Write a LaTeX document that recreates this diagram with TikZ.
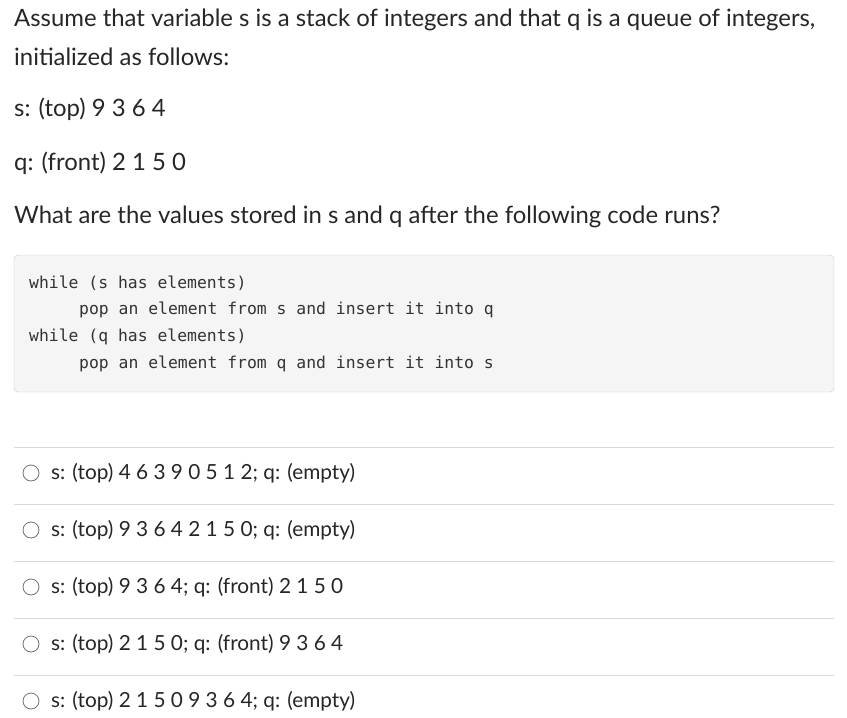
\documentclass[tikz,border=0pt]{standalone}
\usepackage{fontspec}
\setmainfont{Lato}
\setmonofont{DejaVu Sans Mono}
\begin{document}
\begin{tikzpicture}[x=1pt,y=-1pt,
  txt/.style={anchor=west,inner sep=0pt,font=\fontsize{23.9}{27}\selectfont,text=black!85},
  opt/.style={anchor=west,inner sep=0pt,font=\fontsize{20.8}{24}\selectfont,text=black!85},
  code/.style={anchor=west,inner sep=0pt,font=\ttfamily\fontsize{16.4}{19}\selectfont,text=black!80},
  sep/.style={draw=black!15,line width=0.8pt},
  radio/.style={circle,draw=black!55,line width=0.8pt,minimum size=16pt,inner sep=0pt}]
\useasboundingbox (0,0) rectangle (847,718);
\node[txt] (l1) at (14,20) {Assume that variable s is a stack of integers and that q is a queue of integers,};
\node[txt] (l2) at (14,57) {initialized as follows:};
\node[txt] (l3) at (14,109) {s: (top) 9 3 6 4};
\node[txt] (l4) at (14,163) {q: (front) 2 1 5 0};
\node[txt] (l5) at (14,217) {What are the values stored in s and q after the following code runs?};
\draw[draw=black!20,fill=black!4,rounded corners=4pt] (14,255) rectangle (834,392);
\node[code] (c1) at (29,283) {while (s has elements)};
\node[code] (c2) at (79,310) {pop an element from s and insert it into q};
\node[code] (c3) at (29,337) {while (q has elements)};
\node[code] (c4) at (79,364) {pop an element from q and insert it into s};
\foreach \y in {447,504,561,618,675} \draw[sep] (14,\y) -- (834,\y);
\node[radio] (r1) at (31,473) {}; \node[opt] (o1) at (51,473) {s: (top) 4 6 3 9 0 5 1 2; q: (empty)};
\node[radio] (r2) at (31,530) {}; \node[opt] (o2) at (51,530) {s: (top) 9 3 6 4 2 1 5 0; q: (empty)};
\node[radio] (r3) at (31,587) {}; \node[opt] (o3) at (51,587) {s: (top) 9 3 6 4; q: (front) 2 1 5 0};
\node[radio] (r4) at (31,644) {}; \node[opt] (o4) at (51,644) {s: (top) 2 1 5 0; q: (front) 9 3 6 4};
\node[radio] (r5) at (31,701) {}; \node[opt] (o5) at (51,701) {s: (top) 2 1 5 0 9 3 6 4; q: (empty)};
\end{tikzpicture}
\end{document}
